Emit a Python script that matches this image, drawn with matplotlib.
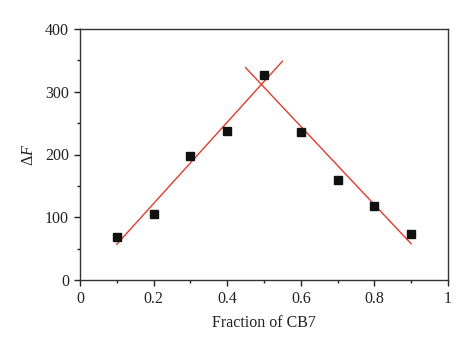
import numpy as np
import matplotlib
matplotlib.use("Agg")
import matplotlib.pyplot as plt
from matplotlib.ticker import MultipleLocator, FuncFormatter

fraction = [0.1, 0.2, 0.3, 0.4, 0.5, 0.6, 0.7, 0.8, 0.9]
delta_f = [68, 105, 197, 237, 326, 236, 159, 118, 73]

left_fit_range = [0.1, 0.55]
right_fit_range = [0.45, 0.9]

plt.rcParams['font.family'] = ['Liberation Serif', 'DejaVu Serif']
plt.rcParams['mathtext.fontset'] = 'custom'
plt.rcParams['mathtext.it'] = 'Liberation Serif:italic'
plt.rcParams['mathtext.rm'] = 'Liberation Serif'

fig = plt.figure(figsize=(4.74, 3.51), dpi=100)
ax = fig.add_axes([80/474, 1-280/351, 368/474, 251/351])

x = np.array(fraction)
y = np.array(delta_f)
red = '#dd3b2e'
kl = np.polyfit(x[:5], y[:5], 1)
xl = np.array(left_fit_range)
ax.plot(xl, np.polyval(kl, xl), color=red, lw=1.0, zorder=2)
kr = np.polyfit(x[4:], y[4:], 1)
xr = np.array(right_fit_range)
ax.plot(xr, np.polyval(kr, xr), color=red, lw=1.0, zorder=2)

ax.plot(x, y, 's', color='#111111', markersize=5.5, zorder=3)

ax.set_xlim(0, 1)
ax.set_ylim(0, 400)
ax.xaxis.set_major_locator(MultipleLocator(0.2))
ax.xaxis.set_minor_locator(MultipleLocator(0.1))
ax.yaxis.set_major_locator(MultipleLocator(100))
ax.yaxis.set_minor_locator(MultipleLocator(50))
ax.xaxis.set_major_formatter(FuncFormatter(lambda v, p: '%g' % round(v, 2)))
ax.tick_params(which='both', direction='out', top=False, right=False, labelsize=11.5, colors='#222222')
ax.tick_params(which='major', length=4, width=1, pad=4)
ax.tick_params(which='minor', length=2.5, width=1)
for s in ax.spines.values():
    s.set_color('#333333')
    s.set_linewidth(1.0)

ax.set_xlabel('Fraction of CB7', fontsize=11.5, color='#222222', labelpad=5.5)
ax.set_ylabel(r'$\Delta F$', fontsize=11.5, color='#222222', labelpad=5.5)

fig.savefig('out.png', dpi=100)
